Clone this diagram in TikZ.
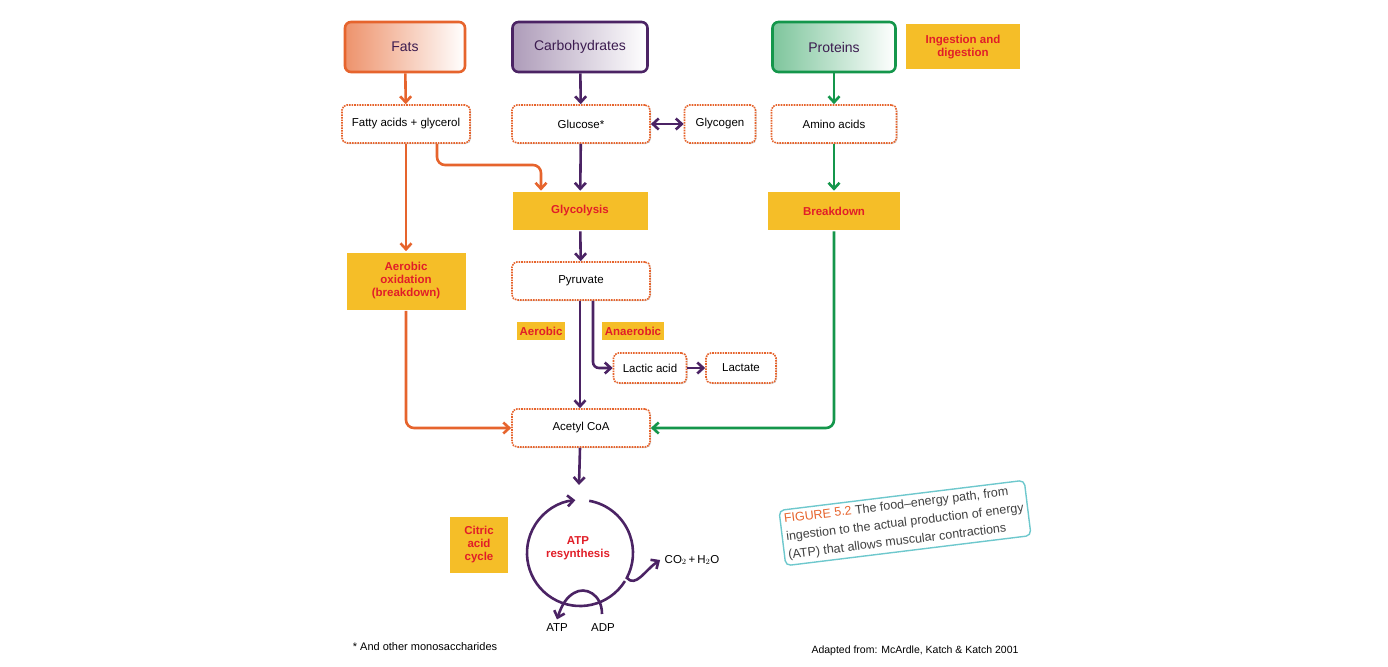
\documentclass[tikz,border=0pt]{standalone}
\usepackage{fontspec}
\setmainfont{Liberation Sans}
\usetikzlibrary{arrows.meta,shadows}
\definecolor{fatc}{RGB}{230,100,45}
\definecolor{carbc}{RGB}{75,35,100}
\definecolor{protc}{RGB}{20,150,75}
\definecolor{yel}{RGB}{245,190,40}
\definecolor{redt}{RGB}{225,30,40}
\definecolor{capc}{RGB}{110,200,205}
\begin{document}
\begin{tikzpicture}[x=1pt,y=-1pt,>={Straight Barb[length=6pt,width=11pt]}]
    \tikzstyle{every path}=[line width=2.6pt];
    \tikzstyle{food}=[draw,rounded corners=6pt,minimum width=120pt,minimum height=50pt,font=\fontsize{14}{16}\selectfont,text=carbc!80!black];
    \tikzstyle{stage}=[draw=fatc,densely dotted,line width=1.6pt,rounded corners=5pt,fill=white,minimum height=38pt,font=\fontsize{11.5}{13}\selectfont,drop shadow={shadow xshift=1pt,shadow yshift=-1pt,opacity=0.3}];
    \tikzstyle{phase}=[fill=yel,text=redt,font=\bfseries\fontsize{11.5}{13}\selectfont,align=center,inner sep=3pt];
    \useasboundingbox (0,0) rectangle (1388,666);

    \node at (405,47)  (fats) [food,draw=fatc,left color=fatc!70,right color=white] {Fats};
    \node at (580,47)  (carb) [food,draw=carbc,left color=carbc!45,right color=white,minimum width=135pt] {Carbohydrates};
    \node at (834,47)  (prot) [food,draw=protc,left color=protc!55,right color=white,minimum width=123pt] {Proteins};
    \node at (963,47)  (ingest) [phase,minimum width=114pt,minimum height=45pt] {Ingestion and\\digestion};

    \node at (406,124) (fatty) [stage,minimum width=128pt] {Fatty acids + glycerol};
    \node at (581,124) (glucose) [stage,minimum width=138pt] {Glucose*};
    \node at (720,124) (glycogen) [stage,minimum width=71pt] {Glycogen};
    \node at (834,124) (amino) [stage,minimum width=125pt] {Amino acids};

    \node at (580,211) (glycol) [phase,minimum width=135pt,minimum height=38pt] {Glycolysis};
    \node at (834,211) (brk) [phase,minimum width=132pt,minimum height=38pt] {Breakdown};
    \node at (406,281) (aerox) [phase,minimum width=119pt,minimum height=57pt] {Aerobic\\oxidation\\(breakdown)};
    \node at (581,281) (pyr) [stage,minimum width=138pt] {Pyruvate};
    \node at (541,331) (aer) [phase,minimum height=18pt] {Aerobic};
    \node at (633,331) (anaer) [phase,minimum height=18pt] {Anaerobic};
    \node at (650,368) (lactic) [stage,minimum width=73pt,minimum height=30pt] {Lactic acid};
    \node at (741,368) (lactate) [stage,minimum width=70pt,minimum height=30pt] {Lactate};
    \node at (581,428) (acetyl) [stage,minimum width=138pt] {Acetyl CoA};

    \coordinate (cyc) at (580,553);
    \node at (578,548) (atpres) [text=redt,font=\bfseries\fontsize{11.5}{13}\selectfont,align=center] {ATP\\resynthesis};
    \node at (479,545) (citric) [phase,minimum width=58pt,minimum height=56pt] {Citric\\acid\\cycle};
    \node at (692,560) (co2) [font=\fontsize{11.5}{13}\selectfont] {CO$_2$\,+\,H$_2$O};
    \node at (557,628) (atp) [font=\fontsize{11.5}{13}\selectfont] {ATP};
    \node at (603,628) (adp) [font=\fontsize{11.5}{13}\selectfont] {ADP};
    \coordinate (ring) at (602,614);

    \node at (425,647) (note) [font=\fontsize{11}{13}\selectfont] {* And other monosaccharides};
    \node at (915,651) (src) [font=\fontsize{10.5}{12}\selectfont] {Adapted from: McArdle, Katch \& Katch 2001};
    \node at (905,523) (cap) [draw=capc,line width=1.4pt,rounded corners=5pt,rotate=7,align=left,inner sep=4pt,font=\fontsize{12.5}{15}\selectfont,text=black!75] {\textcolor{fatc}{FIGURE 5.2} The food--energy path, from\\[3pt]ingestion to the actual production of energy\\[3pt](ATP) that allows muscular contractions};

    \draw[->,fatc] (fats) -- (fatty);
    \draw[->,fatc] (fatty) -- (aerox);
    \draw[->,fatc,rounded corners=8pt] ([xshift=31pt]fatty.south) |- (541,165) -- ([xshift=-39pt]glycol.north);
    \draw[->,fatc,rounded corners=8pt] (aerox.south) |- (acetyl.west);
    \draw[->,carbc] (carb) -- (glucose);
    \draw[<->,carbc] (glucose) -- (glycogen);
    \draw[->,carbc] (glucose) -- (glycol);
    \draw[->,carbc] (glycol) -- (pyr);
    \draw[->,carbc] ([xshift=-1pt]pyr.south) -- ([xshift=-1pt]acetyl.north);
    \draw[->,carbc,rounded corners=6pt] ([xshift=12pt]pyr.south) |- (lactic.west);
    \draw[->,carbc] (lactic) -- (lactate);
    \draw[->,protc] (prot) -- (amino);
    \draw[->,protc] (amino) -- (brk);
    \draw[->,protc,rounded corners=8pt] (brk.south) |- (acetyl.east);
    \draw[->,carbc] ([xshift=-1pt]acetyl.south) -- (579,485);
    \draw[->,carbc] (cyc) ++(-80:53) arc[start angle=-80,end angle=28,radius=53] .. controls (636,588) and (645,570) .. (co2.west);
    \draw[->,carbc] (cyc) ++(32:53) arc[start angle=32,end angle=265,radius=53];
    \draw[->,carbc] (ring) .. controls (602,594) and (585,586) .. (574,593) .. controls (567,597) and (562,604) .. (atp.north);
\end{tikzpicture}
\end{document}
